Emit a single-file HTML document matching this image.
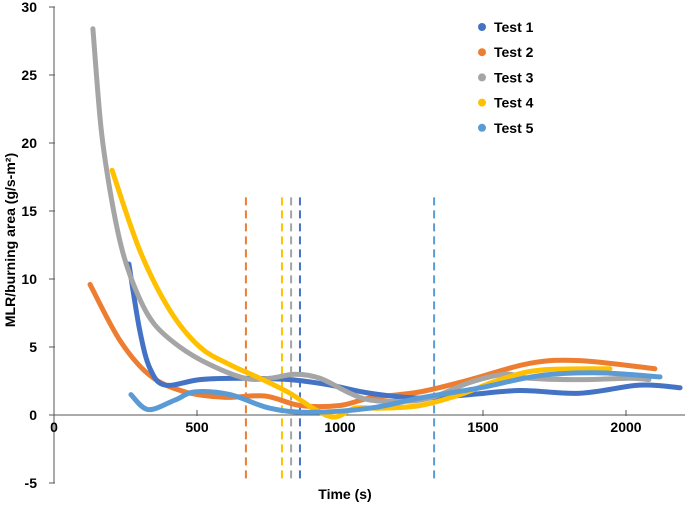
<!DOCTYPE html>
<html><head><meta charset="utf-8"><style>
body{margin:0;background:#fff}
svg text{font-family:"Liberation Sans",sans-serif;fill:#000}
</style></head><body>
<svg id="c" width="685" height="504"></svg>
<script>
const xTicks=[0,500,1000,1500,2000];
const yTicks=[-5,0,5,10,15,20,25,30];
const seriesNames=["Test 1","Test 2","Test 3","Test 4","Test 5"];
const colors=["#4472C4","#ED7D31","#A5A5A5","#FFC000","#5B9BD5"];
const t1x=[262,300,336,388,510,650,825,965,1105,1280,1455,1630,1839,2049,2189];
const t1y=[11.1,6.2,3.4,2.2,2.6,2.7,2.6,2.2,1.6,1.25,1.5,1.8,1.6,2.2,2.0];
const t2x=[126,230,336,458,598,738,860,1000,1105,1280,1455,1664,1839,2101];
const t2y=[9.6,5.5,2.9,1.7,1.3,1.4,0.7,0.7,1.25,1.7,2.6,3.8,4.0,3.4];
const t3x=[136,165,200,240,290,350,440,545,668,755,843,930,1035,1105,1210,1315,1455,1577,1664,1839,2014,2080];
const t3y=[28.4,21,16,12,9,6.7,5.0,3.7,2.7,2.7,3.0,2.7,1.6,1.1,1.0,1.25,2.4,3.0,2.7,2.6,2.7,2.6];
const t4x=[203,300,405,510,615,720,825,913,983,1052,1140,1280,1420,1560,1700,1944];
const t4y=[18,12.1,7.7,5,3.7,2.7,1.6,0.4,-0.15,0.5,0.5,0.7,1.5,2.6,3.3,3.4];
const t5x=[269,329,423,493,615,755,895,1105,1280,1490,1700,1909,2119];
const t5y=[1.5,0.4,1.1,1.7,1.5,0.5,0.2,0.5,1.25,2.0,2.9,3.1,2.8];
const dashX=[860,671,829,797,1329];
const dashTop=16, dashBottom=-5;
const sx=v=>54+v*0.286;
const sy=v=>415-v*13.6;
const NS="http://www.w3.org/2000/svg";
const svg=document.getElementById('c');
function el(t,a,txt){const e=document.createElementNS(NS,t);for(const k in a)e.setAttribute(k,a[k]);if(txt!=null)e.textContent=txt;svg.appendChild(e);return e;}
let ya=el('line',{x1:sx(0),x2:sx(0),y1:sy(30),y2:sy(-5),stroke:'#555','stroke-width':1});

let xa=el('line',{x1:sx(0),x2:685,y1:sy(0),y2:sy(0),stroke:'#555','stroke-width':1});

yTicks.forEach(v=>{
 let l=el('line',{x1:sx(0)-5,x2:sx(0)+1,y1:sy(v),y2:sy(v),stroke:'#555'});
 
 let t=el('text',{x:37,y:sy(v)+5,'text-anchor':'end','font-size':14,'font-weight':'bold'},v);
 
});
xTicks.forEach(v=>{
 if(v>0){let l=el('line',{x1:sx(v),x2:sx(v),y1:sy(0)-5,y2:sy(0)+1,stroke:'#555'});
 }
 let t=el('text',{x:sx(v),y:432,'text-anchor':'middle','font-size':14,'font-weight':'bold'},v);
 
});
let xt=el('text',{x:345,y:499,'text-anchor':'middle','font-size':14,'font-weight':'bold'},'Time (s)');

let yt=el('text',{x:0,y:0,'text-anchor':'middle','font-size':14,'font-weight':'bold',transform:'translate(15,240) rotate(-90)'},'MLR/burning area (g/s-m²)');

dashX.forEach((v,i)=>{
 let l=el('line',{x1:sx(v),x2:sx(v),y1:sy(dashTop),y2:sy(dashBottom),stroke:colors[i],'stroke-width':2,'stroke-dasharray':'8,5'});
 
});
function smooth(xs,ys){
 const p=xs.map((x,i)=>[sx(x),sy(ys[i])]);
 let d='M'+p[0][0]+','+p[0][1];
 for(let i=0;i<p.length-1;i++){
  const p0=p[i-1]||p[i],p1=p[i],p2=p[i+1],p3=p[i+2]||p2;
  d+=' C'+(p1[0]+(p2[0]-p0[0])/6)+','+(p1[1]+(p2[1]-p0[1])/6)+' '+(p2[0]-(p3[0]-p1[0])/6)+','+(p2[1]-(p3[1]-p1[1])/6)+' '+p2[0]+','+p2[1];
 }
 return d;
}
const data=[[t1x,t1y],[t2x,t2y],[t3x,t3y],[t4x,t4y],[t5x,t5y]];
const order=[1,0,2,3,4];
order.forEach(i=>{
 let p=el('path',{d:smooth(data[i][0],data[i][1]),fill:'none',stroke:colors[i],'stroke-width':5,'stroke-linecap':'round','stroke-linejoin':'round'});
 
});
seriesNames.forEach((n,i)=>{
 const y=27+i*25.2;
 let c=el('circle',{cx:482,cy:y,r:4,fill:colors[i]});
 
 let t=el('text',{x:494,y:y+5,'font-size':14,'font-weight':'bold'},n);
 
});
</script>
</body></html>
